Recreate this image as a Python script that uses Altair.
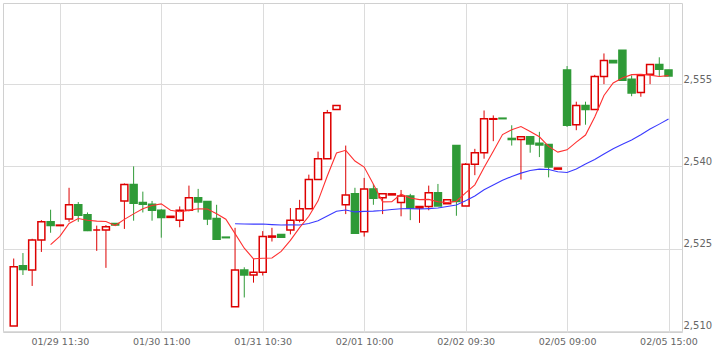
import altair as alt
import pandas as pd

opens = [2510.9, 2521.9, 2521.1, 2526.6, 2529.9, 2529.2, 2530.4, 2533.0, 2531.2, 2528.4,
         2528.4, 2529.6, 2533.7, 2536.7, 2533.4, 2533.1, 2532.0, 2530.7, 2530.2, 2532.0,
         2534.3, 2533.6, 2530.5, 2527.1, 2514.4, 2521.1, 2520.2, 2520.7, 2527.1, 2527.6,
         2528.4, 2530.2, 2532.3, 2537.6, 2541.4, 2550.4, 2533.0, 2535.0, 2528.1, 2535.9,
         2534.3, 2534.8, 2533.4, 2534.6, 2532.4, 2532.7, 2535.2, 2533.2, 2543.8, 2532.8,
         2540.4, 2542.5, 2548.6, 2548.8, 2545.1, 2544.9, 2545.4, 2544.2, 2544.0, 2539.5,
         2557.6, 2547.6, 2551.1, 2550.4, 2556.4, 2559.3, 2561.2, 2555.9, 2553.5, 2556.8,
         2558.6, 2557.6]
highs = [2523.2, 2524.2, 2526.8, 2530.2, 2532.1, 2529.3, 2536.1, 2533.5, 2531.6, 2529.2,
         2529.3, 2529.6, 2536.9, 2540.0, 2535.4, 2533.7, 2532.2, 2530.9, 2532.7, 2536.5,
         2535.9, 2533.6, 2533.0, 2527.1, 2528.8, 2521.6, 2523.1, 2528.2, 2528.8, 2527.6,
         2532.4, 2533.9, 2538.5, 2542.7, 2550.3, 2551.1, 2543.8, 2536.1, 2537.9, 2536.8,
         2535.0, 2535.0, 2535.7, 2535.0, 2532.7, 2536.5, 2536.8, 2533.9, 2543.8, 2540.6,
         2543.2, 2550.2, 2549.3, 2548.8, 2547.5, 2545.4, 2545.4, 2546.3, 2544.0, 2539.7,
         2558.3, 2551.8, 2551.8, 2556.7, 2560.6, 2559.3, 2561.2, 2556.6, 2556.6, 2558.6,
         2559.9, 2557.6]
lows = [2510.9, 2520.2, 2518.2, 2524.4, 2527.9, 2529.2, 2529.9, 2529.9, 2528.2, 2524.6,
        2521.5, 2529.3, 2528.6, 2530.1, 2531.6, 2530.1, 2527.0, 2530.7, 2528.9, 2531.8,
        2531.6, 2529.3, 2526.7, 2527.0, 2514.4, 2516.1, 2518.8, 2520.1, 2526.3, 2527.1,
        2527.6, 2529.8, 2532.3, 2537.6, 2541.4, 2550.4, 2531.3, 2527.8, 2527.2, 2533.0,
        2531.3, 2534.8, 2530.9, 2530.2, 2529.7, 2532.0, 2532.8, 2533.2, 2531.0, 2532.8,
        2538.4, 2541.4, 2544.6, 2548.7, 2543.8, 2537.6, 2542.5, 2541.7, 2538.0, 2539.5,
        2547.2, 2546.6, 2547.6, 2550.4, 2555.0, 2558.9, 2555.6, 2552.8, 2552.7, 2555.0,
        2556.5, 2556.5]
closes = [2521.7, 2521.2, 2526.6, 2529.9, 2529.2, 2529.3, 2533.0, 2531.1, 2528.3, 2528.4,
          2529.0, 2529.3, 2536.7, 2533.3, 2533.1, 2532.0, 2530.7, 2530.9, 2532.0, 2534.3,
          2533.5, 2530.4, 2526.7, 2527.0, 2521.1, 2520.2, 2520.7, 2527.2, 2527.3, 2527.1,
          2530.2, 2532.3, 2537.6, 2541.4, 2549.8, 2551.1, 2534.8, 2527.8, 2535.9, 2534.2,
          2535.0, 2535.0, 2534.6, 2532.4, 2532.7, 2535.2, 2532.8, 2533.9, 2533.6, 2540.4,
          2542.5, 2548.7, 2548.7, 2548.7, 2544.9, 2545.4, 2544.1, 2543.9, 2539.9, 2539.7,
          2547.5, 2551.1, 2550.4, 2556.4, 2559.3, 2558.9, 2555.7, 2553.4, 2556.6, 2558.6,
          2557.7, 2556.5]

tick_index = [5, 16, 27, 38, 49, 60, 71]
tick_labels = ["01/29 11:30", "01/30 11:00", "01/31 10:30", "02/01 10:00",
               "02/02 09:30", "02/05 09:00", "02/05 15:00"]
y_ticks = [2510, 2525, 2540, 2555]
y_labels = ["2,510", "2,525", "2,540", "2,555"]

RED = "#dd0000"
GREEN = "#2f9a37"

df = pd.DataFrame({
    "i": list(range(len(closes))),
    "open": opens, "high": highs, "low": lows, "close": closes,
})
df["dir"] = ["up" if c >= o else "down" for o, c in zip(opens, closes)]


def expr_for(values, labels):
    s = ""
    for v, l in zip(values, labels):
        s += f"abs(datum.value - {v}) < 0.01 ? '{l}' : "
    return s + "''"


FONT = "DejaVu Sans"
FS = 9.5

xscale = alt.Scale(domain=[-0.62, 71.92], nice=False, zero=False)
xaxis = alt.Axis(values=tick_index, labelExpr=expr_for(tick_index, tick_labels), title=None,
                 grid=True, ticks=False, domain=False, labelFlush=False,
                 labelOverlap=False, labelBound=False, labelPadding=4,
                 labelFontSize=FS, labelFont=FONT, labelColor="#666666",
                 gridColor="#dcdcdc")
yscale = alt.Scale(domain=[2509.8, 2569.8], nice=False, zero=False)
yaxis = alt.Axis(orient="right", values=y_ticks, labelExpr=expr_for(y_ticks, y_labels),
                 title=None, grid=True, labelOverlap=False, labelBound=False, labelFlush=False,
                 ticks=False, domain=False, labelPadding=1, labelFontSize=10,
                 labelFont=FONT, labelColor="#666666", labelBaseline="alphabetic",
                 labelOffset=-2, gridColor="#dcdcdc")

base = alt.Chart(df)

wicks = base.mark_rule(strokeWidth=1).encode(
    x=alt.X("i:Q", scale=xscale, axis=xaxis),
    y=alt.Y("low:Q", scale=yscale, axis=yaxis),
    y2="high:Q",
    color=alt.Color("dir:N", scale=alt.Scale(domain=["up", "down"], range=[RED, GREEN]), legend=None),
)

bodies = base.transform_calculate(
    bot="min(datum.open, datum.close)", top="max(datum.open, datum.close)"
).mark_bar(size=7, strokeWidth=1.5).encode(
    x=alt.X("i:Q", scale=xscale, axis=None),
    y=alt.Y("bot:Q", scale=yscale, axis=None),
    y2="top:Q",
    fill=alt.Fill("dir:N", scale=alt.Scale(domain=["up", "down"], range=["#ffffff", GREEN]), legend=None),
    stroke=alt.Stroke("dir:N", scale=alt.Scale(domain=["up", "down"], range=[RED, GREEN]), legend=None),
)

ma5 = base.transform_window(
    ma5="mean(close)", n5="count()", frame=[-4, 0], sort=[alt.SortField("i")]
).transform_filter("datum.n5 >= 5").mark_line(color="#ff3030", strokeWidth=1.1).encode(
    x=alt.X("i:Q", scale=xscale, axis=None),
    y=alt.Y("ma5:Q", scale=yscale, axis=None)
)

ma25 = base.transform_window(
    ma25="mean(close)", n25="count()", frame=[-24, 0], sort=[alt.SortField("i")]
).transform_filter("datum.n25 >= 25").mark_line(color="#3a3aff", strokeWidth=1.1).encode(
    x=alt.X("i:Q", scale=xscale, axis=None),
    y=alt.Y("ma25:Q", scale=yscale, axis=None)
)

chart = alt.layer(wicks, bodies, ma25, ma5).resolve_axis(
    x="independent", y="independent"
).properties(
    width=679, height=329,
    autosize=alt.AutoSizeParams(type="none"),
    padding={"left": 3, "top": 3, "right": 36, "bottom": 20},
).configure_view(stroke="#d0d0d0", strokeWidth=1)

chart.save("out.html", embed_options={"renderer": "svg", "actions": False})
